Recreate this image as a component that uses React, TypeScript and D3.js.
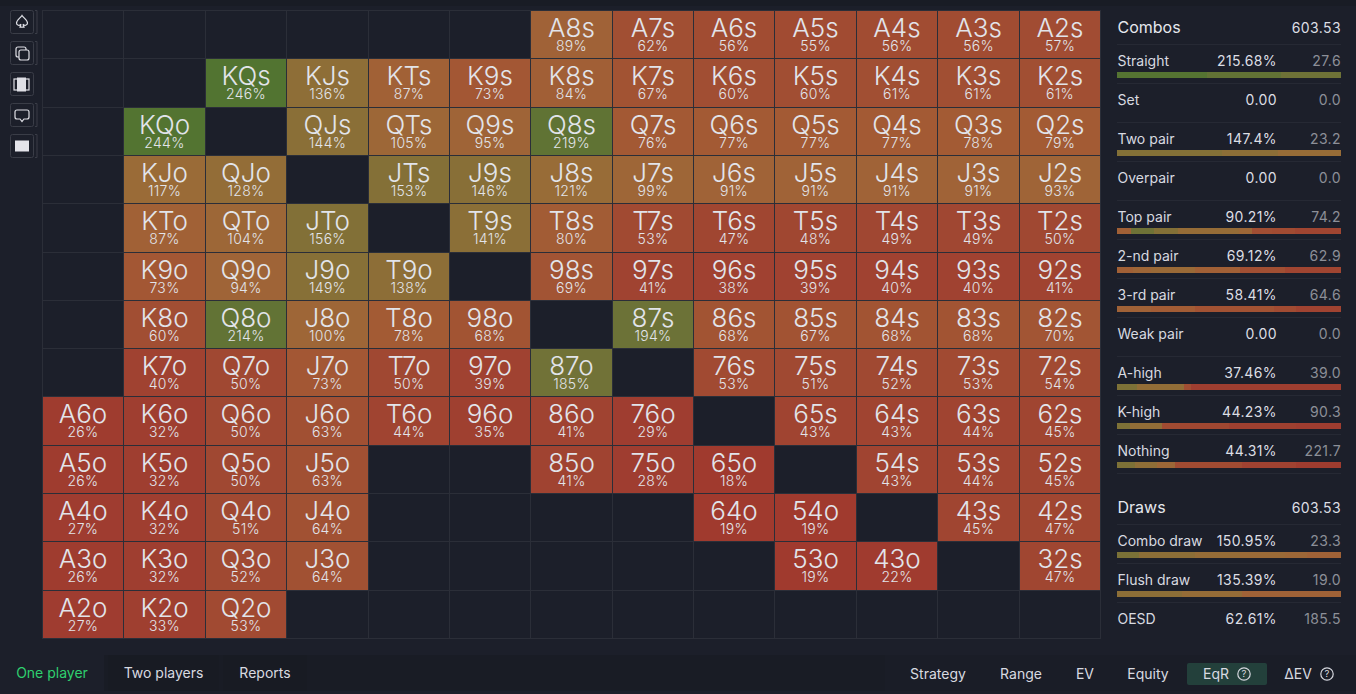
import React from 'react';
import * as d3 from 'd3';

const ranks = ['A', 'K', 'Q', 'J', 'T', '9', '8', '7', '6', '5', '4', '3', '2'];

// EqR per hand, row = first rank, column = second rank, null = not in range
const rowA = [null, null, null, null, null, null, 89, 62, 56, 55, 56, 56, 57];
const rowK = [null, null, 246, 136, 87, 73, 84, 67, 60, 60, 61, 61, 61];
const rowQ = [null, 244, null, 144, 105, 95, 219, 76, 77, 77, 77, 78, 79];
const rowJ = [null, 117, 128, null, 153, 146, 121, 99, 91, 91, 91, 91, 93];
const rowT = [null, 87, 104, 156, null, 141, 80, 53, 47, 48, 49, 49, 50];
const row9 = [null, 73, 94, 149, 138, null, 69, 41, 38, 39, 40, 40, 41];
const row8 = [null, 60, 214, 100, 78, 68, null, 194, 68, 67, 68, 68, 70];
const row7 = [null, 40, 50, 73, 50, 39, 185, null, 53, 51, 52, 53, 54];
const row6 = [26, 32, 50, 63, 44, 35, 41, 29, null, 43, 43, 44, 45];
const row5 = [26, 32, 50, 63, null, null, 41, 28, 18, null, 43, 44, 45];
const row4 = [27, 32, 51, 64, null, null, null, null, 19, 19, null, 45, 47];
const row3 = [26, 32, 52, 64, null, null, null, null, null, 19, 22, null, 47];
const row2 = [27, 33, 53, null, null, null, null, null, null, null, null, null, null];
const matrix = [rowA, rowK, rowQ, rowJ, rowT, row9, row8, row7, row6, row5, row4, row3, row2];

const colorStops = [18, 30, 45, 60, 77, 90, 117, 150, 194, 246];
const colorValues = ['#a03a2e', '#9f3d30', '#a04531', '#a14e33', '#a35a34', '#a06337', '#9a6b37', '#867037', '#6c7237', '#527431'];

// bars: [share of combos, EqR of that share]
const straightBar = [[0.4, 240], [0.33, 215], [0.27, 190]];
const twoPairBar = [[0.47, 155], [0.25, 140], [0.28, 122]];
const topPairBar = [[0.063, 85], [0.1, 190], [0.11, 155], [0.27, 125], [0.06, 105], [0.09, 60], [0.1, 55], [0.207, 45]];
const secondPairBar = [[0.07, 85], [0.08, 100], [0.2, 115], [0.2, 85], [0.2, 62], [0.25, 45]];
const thirdPairBar = [[0.15, 88], [0.2, 80], [0.35, 65], [0.1, 55], [0.2, 42]];
const aHighBar = [[0.09, 165], [0.21, 130], [0.03, 60], [0.67, 32]];
const kHighBar = [[0.06, 165], [0.14, 130], [0.08, 55], [0.22, 48], [0.3, 35], [0.2, 28]];
const nothingBar = [[0.08, 165], [0.1, 135], [0.08, 105], [0.3, 55], [0.24, 40], [0.2, 26]];
const comboBar = [[0.1, 170], [0.25, 140], [0.2, 125], [0.2, 115], [0.1, 105], [0.15, 88]];
const flushBar = [[0.29, 140], [0.27, 125], [0.44, 88]];

const comboRows = [
  { label: 'Straight', pct: '215.68%', val: '27.6', bar: straightBar },
  { label: 'Set', pct: '0.00', val: '0.0', bar: null },
  { label: 'Two pair', pct: '147.4%', val: '23.2', bar: twoPairBar },
  { label: 'Overpair', pct: '0.00', val: '0.0', bar: null },
  { label: 'Top pair', pct: '90.21%', val: '74.2', bar: topPairBar },
  { label: '2-nd pair', pct: '69.12%', val: '62.9', bar: secondPairBar },
  { label: '3-rd pair', pct: '58.41%', val: '64.6', bar: thirdPairBar },
  { label: 'Weak pair', pct: '0.00', val: '0.0', bar: null },
  { label: 'A-high', pct: '37.46%', val: '39.0', bar: aHighBar },
  { label: 'K-high', pct: '44.23%', val: '90.3', bar: kHighBar },
  { label: 'Nothing', pct: '44.31%', val: '221.7', bar: nothingBar },
];
const drawRows = [
  { label: 'Combo draw', pct: '150.95%', val: '23.3', bar: comboBar },
  { label: 'Flush draw', pct: '135.39%', val: '19.0', bar: flushBar },
  { label: 'OESD', pct: '62.61%', val: '185.5', bar: null },
];
const combosTotal = '603.53';

const tabsLeft = [
  { label: 'One player', x0: 0, x1: 104 },
  { label: 'Two players', x0: 108, x1: 219 },
  { label: 'Reports', x0: 223, x1: 307 },
];
const tabsRight = [
  { label: 'Strategy', x: 938 },
  { label: 'Range', x: 1021 },
  { label: 'EV', x: 1085 },
  { label: 'Equity', x: 1148 },
];

const BG = '#1c1f2a';
const LINE = '#2b2e38';
const FONT = 'Inter, sans-serif';

const xGrid = d3.scaleBand<number>().domain(d3.range(13)).range([42, 1100]);
const yGrid = d3.scaleBand<number>().domain(d3.range(13)).range([10, 638]);
const color = d3.scaleLinear<string>().domain(colorStops).range(colorValues).clamp(true);
const barX = d3.scaleLinear().domain([0, 1]).range([1117, 1341]);

function handName(r: number, c: number) {
  if (r === c) return ranks[r] + ranks[c];
  return r < c ? ranks[r] + ranks[c] + 's' : ranks[c] + ranks[r] + 'o';
}

const HelpIcon = ({ x, y }: { x: number; y: number }) => (
  <g>
    <circle cx={x} cy={y} r={6.2} fill="none" stroke="#d5d7de" strokeWidth={1.2} />
    <text x={x} y={y + 3.3} textAnchor="middle" fontSize={9.5} fill="#d5d7de" fontFamily={FONT}>?</text>
  </g>
);

const StatRow = ({ row, y }: { row: any; y: number }) => {
  const edges = [0];
  row.bar && row.bar.forEach((s: number[]) => edges.push(edges[edges.length - 1] + s[0]));
  return (
    <g fontFamily={FONT} fontSize={14}>
      <text x={1117.5} y={y + 5} fill="#d8dae0">{row.label}</text>
      <text x={1277} y={y + 5} textAnchor="end" fill="#dcdee4" letterSpacing={0.4}>{row.pct}</text>
      <text x={1341} y={y + 5} textAnchor="end" fill="#8c8f98" letterSpacing={0.4}>{row.val}</text>
      {row.bar && row.bar.map((s: number[], i: number) => {
        const x0 = Math.round(barX(edges[i]));
        const x1 = Math.round(barX(edges[i + 1]));
        return <rect key={i} x={x0} y={y + 11} width={x1 - x0} height={6} fill={color(s[1])} shapeRendering="crispEdges" />;
      })}
      <line x1={1117} x2={1341} y1={y + 22.5} y2={y + 22.5} stroke="#262934" />
    </g>
  );
};

const SideButton = ({ y, children, bracket }: { y: number; children: React.ReactNode; bracket: boolean }) => (
  <g>
    <rect x={10.5} y={y} width={23} height={23} rx={2} fill={BG} stroke="#3a3d47" />
    {bracket && <path d={`M35,${y} h2 v23 h-2`} fill="none" stroke="#3a3d47" />}
    {children}
  </g>
);

export default function App() {
  return (
    <svg width={1356} height={694} style={{ position: 'absolute', left: 0, top: 0, background: BG }}>
      <rect x={0} y={0} width={1356} height={6} fill="#191c25" />

      <SideButton y={10.5} bracket>
        <path d="M22,15.5 c-1.5,2.5 -5.5,4.5 -5.5,7.5 c0,2.5 3.2,3 4.5,1.2 l-1,3 h4 l-1,-3 c1.3,1.8 4.5,1.3 4.5,-1.2 c0,-3 -4,-5 -5.5,-7.5 z" fill="none" stroke="#dfe0e6" strokeWidth={1.2} />
      </SideButton>
      <SideButton y={41.5} bracket>
        <rect x={16} y={47} width={10} height={10} rx={2} fill="none" stroke="#dfe0e6" strokeWidth={1.2} />
        <rect x={19} y={50} width={10} height={10} rx={2} fill={BG} stroke="#dfe0e6" strokeWidth={1.2} />
      </SideButton>
      <SideButton y={72.5} bracket={false}>
        <rect x={14} y={79} width={15} height={11} fill="none" stroke="#dfe0e6" strokeWidth={1.2} />
        <rect x={17} y={77.5} width={9} height={14} fill="#dfe0e6" />
      </SideButton>
      <SideButton y={103.5} bracket>
        <path d="M17,110 h10 a2,2 0 0 1 2,2 v5 a2,2 0 0 1 -2,2 h-3 l-2,2.5 l-2,-2.5 h-3 a2,2 0 0 1 -2,-2 v-5 a2,2 0 0 1 2,-2 z" fill="none" stroke="#dfe0e6" strokeWidth={1.2} />
      </SideButton>
      <SideButton y={134.5} bracket>
        <rect x={15} y={140.5} width={14} height={11} fill="#e4e4ea" />
      </SideButton>

      {matrix.map((row, r) => row.map((v, c) => {
        const x0 = Math.round(xGrid(c) as number);
        const y0 = Math.round(yGrid(r) as number);
        const x1 = Math.round((xGrid(c) as number) + xGrid.bandwidth());
        const y1 = Math.round((yGrid(r) as number) + yGrid.bandwidth());
        const cx = (x0 + x1) / 2 + 0.5;
        return (
          <g key={`${r}-${c}`}>
            <rect x={x0 + 0.5} y={y0 + 0.5} width={x1 - x0} height={y1 - y0} fill={BG} stroke={LINE} shapeRendering="crispEdges" />
            {v !== null && (
              <g>
                <rect x={x0 + 1} y={y0 + 1} width={x1 - x0 - 1} height={y1 - y0 - 1} fill={color(v)} shapeRendering="crispEdges" />
                <text x={cx} y={y0 + 27} textAnchor="middle" fontSize={26} fontWeight={300} fill="#e2e4ea" fontFamily={FONT}>{handName(r, c)}</text>
                <text x={cx} y={y0 + 41} textAnchor="middle" fontSize={14} fontWeight={300} letterSpacing={0.3} fill="#e2e4ea" fontFamily={FONT}>{v}%</text>
              </g>
            )}
          </g>
        );
      }))}

      <g fontFamily={FONT}>
        <text x={1117.5} y={33} fontSize={16} fill="#e6e8ee">Combos</text>
        <text x={1341} y={33} textAnchor="end" fontSize={14} letterSpacing={0.4} fill="#dcdee4">{combosTotal}</text>
        <line x1={1117} x2={1341} y1={44.5} y2={44.5} stroke="#262934" />
        <text x={1117.5} y={513} fontSize={16} fill="#e6e8ee">Draws</text>
        <text x={1341} y={513} textAnchor="end" fontSize={14} letterSpacing={0.4} fill="#dcdee4">{combosTotal}</text>
        <line x1={1117} x2={1341} y1={524.5} y2={524.5} stroke="#262934" />
      </g>
      {comboRows.map((row, i) => <StatRow key={row.label} row={row} y={61 + i * 39} />)}
      {drawRows.map((row, i) => <StatRow key={row.label} row={row} y={541 + i * 39} />)}
      <rect x={1101} y={627} width={255} height={28} fill={BG} />

      <rect x={0} y={655} width={885} height={36} fill="#191c25" />
      <rect x={885} y={655} width={471} height={36} fill="#1a1d27" />
      {tabsLeft.map((t, i) => (
        <g key={t.label}>
          <rect x={t.x0} y={655} width={t.x1 - t.x0} height={36} fill={i === 0 ? '#1c1f2a' : '#181b23'} />
          <text x={(t.x0 + t.x1) / 2} y={678} textAnchor="middle" fontSize={14} fontFamily={FONT} fill={i === 0 ? '#2fd06f' : '#d8dae0'}>{t.label}</text>
        </g>
      ))}
      {tabsRight.map(t => (
        <text key={t.label} x={t.x} y={679} textAnchor="middle" fontSize={14} fontFamily={FONT} fill="#d8dae0">{t.label}</text>
      ))}
      <rect x={1187} y={663} width={80} height={22} rx={2} fill="#23403b" />
      <text x={1216} y={679} textAnchor="middle" fontSize={14} fontFamily={FONT} fill="#d8dae0">EqR</text>
      <HelpIcon x={1244} y={674} />
      <text x={1298} y={679} textAnchor="middle" fontSize={14} fontFamily={FONT} fill="#d8dae0">ΔEV</text>
      <HelpIcon x={1327} y={674} />
    </svg>
  );
}
